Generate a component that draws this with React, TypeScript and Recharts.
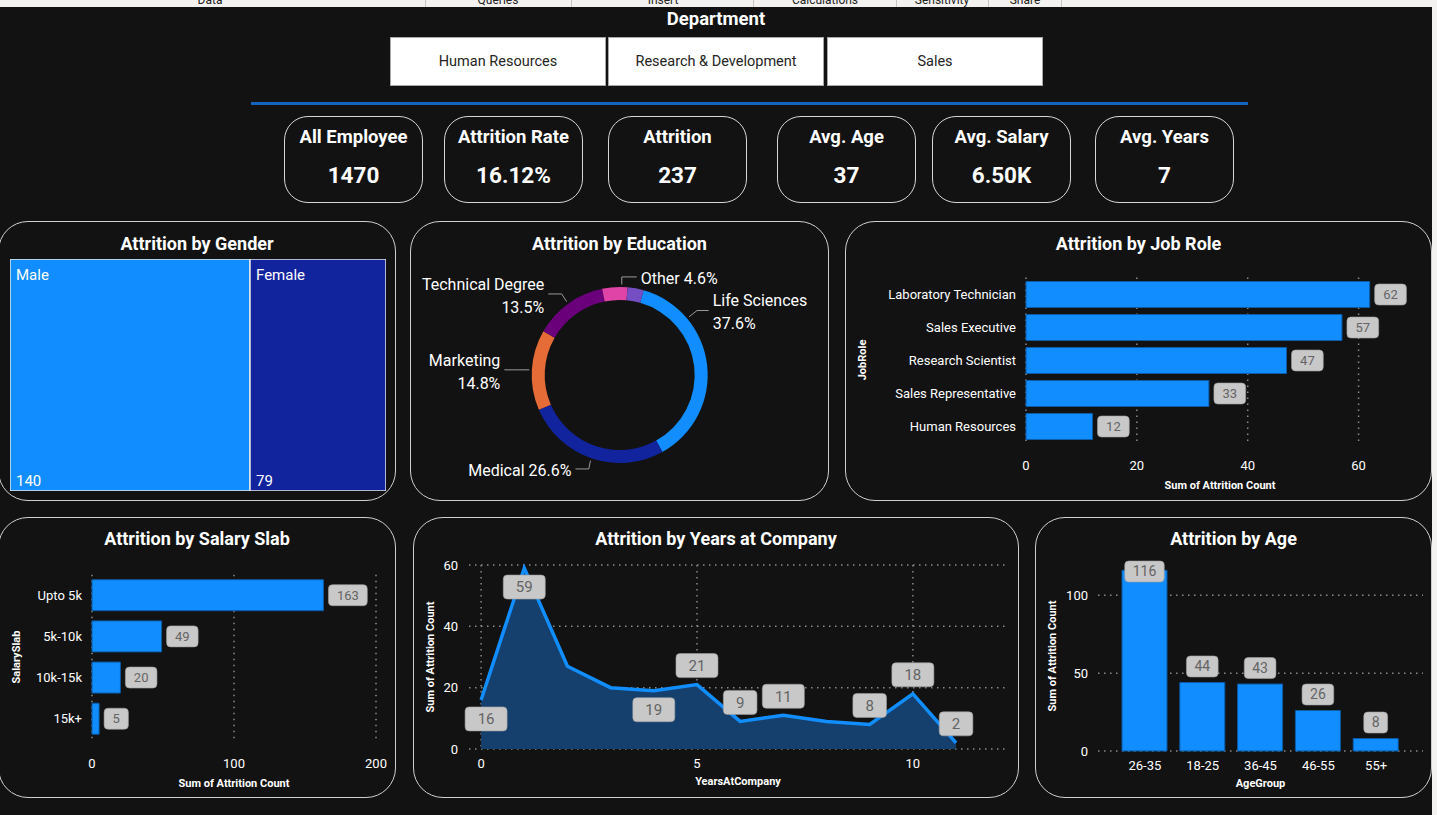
import React from 'react';
import {
  Treemap, PieChart, Pie, Cell, BarChart, Bar, XAxis, YAxis, CartesianGrid, LabelList, AreaChart, Area,
} from 'recharts';

// ---------------- data ----------------
const toolbarTabs = ['Data', 'Queries', 'Insert', 'Calculations', 'Sensitivity', 'Share'];
const departments = ['Human Resources', 'Research & Development', 'Sales'];
const kpiTitles = ['All Employee', 'Attrition Rate', 'Attrition', 'Avg. Age', 'Avg. Salary', 'Avg. Years'];
const kpiValues = ['1470', '16.12%', '237', '37', '6.50K', '7'];

const genderNames = ['Male', 'Female'];
const genderCounts = [140, 79];

const educationFields = ['Life Sciences', 'Medical', 'Marketing', 'Technical Degree', 'Other', 'Human Resources'];
const educationCounts = [89, 63, 35, 32, 11, 7];

const jobRoles = ['Laboratory Technician', 'Sales Executive', 'Research Scientist', 'Sales Representative', 'Human Resources'];
const jobRoleCounts = [62, 57, 47, 33, 12];
const jobRoleTicks = [0, 20, 40, 60];

const salarySlabs = ['Upto 5k', '5k-10k', '10k-15k', '15k+'];
const salaryCounts = [163, 49, 20, 5];
const salaryTicks = [0, 100, 200];

const yearsAtCompany = [0, 1, 2, 3, 4, 5, 6, 7, 8, 9, 10, 11];
const yearsCounts = [16, 59, 27, 20, 19, 21, 9, 11, 9, 8, 18, 2];
const yearsXTicks = [0, 5, 10];
const yearsYTicks = [0, 20, 40, 60];

const ageGroups = ['26-35', '18-25', '36-45', '46-55', '55+'];
const ageCounts = [116, 44, 43, 26, 8];
const ageTicks = [0, 50, 100];

// ---------------- tables built from data ----------------
const genderData = genderNames.map((name, i) => ({ name, value: genderCounts[i] }));
const educationData = educationFields.map((name, i) => ({ name, value: educationCounts[i] }));
const jobRoleData = jobRoles.map((role, i) => ({ role, count: jobRoleCounts[i] }));
const salaryData = salarySlabs.map((slab, i) => ({ slab, count: salaryCounts[i] }));
const yearsData = yearsAtCompany.map((year, i) => ({ year, count: yearsCounts[i] }));
const ageData = ageGroups.map((group, i) => ({ group, count: ageCounts[i] }));

// ---------------- style ----------------
const FONT = "Roboto, 'Noto Sans', Arial, sans-serif";
const BG = '#121212';
const BLUE = '#118dff';
const BAR_STROKE = '#0b5ba8';
const GRID = { stroke: '#8a8a8a', strokeDasharray: '1.5 4.5', strokeWidth: 1.5, syncWithTicks: true };
const TICK = { fill: '#ffffff', fontSize: 13, fontFamily: FONT };
const GENDER_COLORS: Record<string, string> = { Male: '#118dff', Female: '#12239e' };
const EDU_COLORS = ['#118dff', '#12239e', '#e66c37', '#6b007b', '#e044a7', '#744ec2'];

const TAB_CENTERS = [210, 498, 663, 825, 942, 1025];
const TAB_DIVIDERS = [425, 571, 753, 896, 988, 1061];
const SLICER_LEFTS = [390, 608, 827];
const KPI_LEFTS = [284, 444, 608, 777, 932, 1095];

// label geometry for the donut (clockwise degrees from 12 o'clock, offsets in px)
const EDU_LABEL_LAYOUT: Record<string, { angle?: number; elbow: [number, number]; end: [number, number]; twoLine: boolean }> = {
  'Life Sciences': { angle: 50, elbow: [8, -6.3], end: [19.7, -6.3], twoLine: true },
  Medical: { elbow: [-1.7, 8.3], end: [-15, 8.3], twoLine: false },
  Marketing: { elbow: [-12, 0], end: [-25, 0], twoLine: true },
  'Technical Degree': { elbow: [-5, -7.7], end: [-18.4, -7.7], twoLine: true },
  Other: { angle: 1.3, elbow: [0, -7.6], end: [15, -7.6], twoLine: false },
};

// placement of the value badges on the area chart (1 = below point, -1 = above)
const YEARS_LABEL_PLACEMENT: Record<number, { side: number; dx?: number }> = {
  0: { side: 1, dx: 5 }, 1: { side: 1 }, 4: { side: 1 }, 5: { side: -1 }, 6: { side: -1 },
  7: { side: -1 }, 9: { side: -1 }, 10: { side: -1 }, 11: { side: -1 },
};

// ---------------- helpers ----------------
const badgeWidth = (text: string, fontSize: number, padX: number) => text.length * fontSize * 0.56 + padX * 2;

function Badge({ cx, cy, text, fontSize, padX, h }: { cx: number; cy: number; text: string; fontSize: number; padX: number; h: number }) {
  const w = badgeWidth(text, fontSize, padX);
  return (
    <g>
      <rect x={cx - w / 2} y={cy - h / 2} width={w} height={h} rx={4} ry={4} fill="#c8c8c8" stroke="#a0a0a0" strokeWidth={0.6} />
      <text x={cx} y={cy} dy="0.35em" textAnchor="middle" fill="#646464" fontSize={fontSize} fontFamily={FONT}>{text}</text>
    </g>
  );
}

const hTitle = (text: string, dy: number) => (p: any) => {
  const vb = p.viewBox ?? { x: 0, y: 0, width: 0, height: 0 };
  const x = vb.x + vb.width / 2;
  const y = vb.y + dy;
  return (
    <text x={x} y={y} dy="0.35em" textAnchor="middle" fill="#ffffff" fontSize={11} fontWeight={700} fontFamily={FONT}>{text}</text>
  );
};

const vTitle = (text: string, x: number) => (p: any) => {
  const vb = p.viewBox ?? { x: 0, y: 0, width: 0, height: 0 };
  const cy = vb.y + vb.height / 2;
  return (
    <text x={x} y={cy} dy="0.35em" transform={`rotate(-90 ${x} ${cy})`} textAnchor="middle" fill="#ffffff" fontSize={11} fontWeight={700} fontFamily={FONT}>{text}</text>
  );
};

const GenderCell = (props: any) => {
  const { x, y, width, height, name, value, depth } = props;
  if (depth !== 1) return null;
  return (
    <g>
      <rect x={x} y={y} width={width} height={height} fill={GENDER_COLORS[name] ?? BLUE} stroke="#e8e8e8" strokeWidth={1.5} />
      <text x={x + 6} y={y + 21} fill="#ffffff" fontSize={15} fontFamily={FONT}>{name}</text>
      <text x={x + 6} y={y + height - 5} fill="#ffffff" fontSize={15} fontFamily={FONT}>{value}</text>
    </g>
  );
};

const renderEduLabel = (props: any) => {
  const name = props.name ?? props.payload?.name;
  const cfg = EDU_LABEL_LAYOUT[name];
  if (!cfg) return null;
  const { cx, cy, midAngle, outerRadius, percent } = props;
  const clock = cfg.angle ?? 90 - midAngle;
  const rad = (clock * Math.PI) / 180;
  const r = outerRadius + 2.5;
  const ax = cx + r * Math.sin(rad);
  const ay = cy - r * Math.cos(rad);
  const ex = ax + cfg.elbow[0];
  const ey = ay + cfg.elbow[1];
  const tx = ax + cfg.end[0];
  const ty = ay + cfg.end[1];
  const right = cfg.end[0] > 0;
  const textX = right ? tx + 4 : tx - 4;
  const anchor = right ? 'start' : 'end';
  const pct = `${(percent * 100).toFixed(1)}%`;
  const common = { fill: '#ffffff', fontSize: 16, fontFamily: FONT, textAnchor: anchor as any };
  return (
    <g>
      <polyline points={`${ax},${ay} ${ex},${ey} ${tx},${ty}`} fill="none" stroke="#9a9a9a" strokeWidth={1} />
      {cfg.twoLine ? (
        <>
          <text x={textX} y={ty - 9.7} dy="0.35em" {...common}>{name}</text>
          <text x={textX} y={ty + 13.3} dy="0.35em" {...common}>{pct}</text>
        </>
      ) : (
        <text x={textX} y={ty + 1} dy="0.35em" {...common}>{`${name} ${pct}`}</text>
      )}
    </g>
  );
};

const jobBadge = (p: any) => {
  const vb = p.viewBox ?? p;
  const text = String(p.value);
  const w = badgeWidth(text, 13, 8.6);
  return <Badge cx={vb.x + vb.width + 5 + w / 2} cy={vb.y + vb.height / 2} text={text} fontSize={13} padX={8.6} h={21} />;
};

const salaryBadge = (p: any) => {
  const vb = p.viewBox ?? p;
  const text = String(p.value);
  const w = badgeWidth(text, 13, 8.5);
  return <Badge cx={vb.x + vb.width + 5 + w / 2} cy={vb.y + vb.height / 2} text={text} fontSize={13} padX={8.5} h={21} />;
};

const AGE_MARGIN_TOP = 11;
const ageBadge = (p: any) => {
  const vb = p.viewBox ?? p;
  const text = String(p.value);
  const cy = Math.max(vb.y - 16, AGE_MARGIN_TOP + 10.5);
  return <Badge cx={vb.x + vb.width / 2} cy={cy} text={text} fontSize={14} padX={8} h={21} />;
};

const yearsBadge = (p: any) => {
  const idx = p.index;
  const cfg = YEARS_LABEL_PLACEMENT[idx];
  if (!cfg) return null;
  const vb = p.viewBox ?? p;
  const x = p.x ?? vb.x;
  const y = p.y ?? vb.y;
  return <Badge cx={x + (cfg.dx ?? 0)} cy={y + cfg.side * 19} text={String(p.value)} fontSize={15} padX={12.6} h={24} />;
};

const abs = (left: number, top: number, width: number, height: number): React.CSSProperties => ({
  position: 'absolute', left, top, width, height,
});

function Panel({ left, top, width, height, title, titleTop }: { left: number; top: number; width: number; height: number; title: string; titleTop: number }) {
  return (
    <div style={{ ...abs(left, top, width, height), border: '1px solid #cfcfcf', borderRadius: 30, boxSizing: 'border-box' }}>
      <div style={{ position: 'absolute', left: 0, right: 0, top: titleTop, textAlign: 'center', color: '#fff', fontSize: 18, fontWeight: 700, lineHeight: '22px', fontFamily: FONT }}>
        {title}
      </div>
    </div>
  );
}

export default function App() {
  return (
    <div style={{ position: 'absolute', left: 0, top: 0, width: 1437, height: 815, background: BG, overflow: 'hidden', fontFamily: FONT }}>
      {/* ribbon remnant at the top */}
      <div style={{ ...abs(0, 0, 1437, 7), background: '#f3f2f1', overflow: 'hidden' }}>
        {toolbarTabs.map((t, i) => (
          <div key={t} style={{ position: 'absolute', left: TAB_CENTERS[i] - 60, width: 120, top: -7, textAlign: 'center', fontSize: 12, lineHeight: '14px', color: '#252423' }}>{t}</div>
        ))}
        {TAB_DIVIDERS.map((x) => (
          <div key={x} style={{ ...abs(x, 0, 1, 7), background: '#c8c6c4' }} />
        ))}
      </div>
      <div style={{ ...abs(1432, 7, 5, 808), background: '#f3f2f1' }} />

      {/* slicer */}
      <div style={{ ...abs(0, 8, 1432, 22), textAlign: 'center', color: '#fff', fontSize: 18.5, fontWeight: 700, lineHeight: '22px' }}>Department</div>
      {departments.map((d, i) => (
        <div key={d} style={{ ...abs(SLICER_LEFTS[i], 37, 216, 49), background: '#ffffff', border: '1px solid #a8a8a8', boxSizing: 'border-box', display: 'flex', alignItems: 'center', justifyContent: 'center', color: '#252423', fontSize: 14.5 }}>{d}</div>
      ))}
      <div style={{ ...abs(251, 102, 997, 3), background: '#1565c0' }} />

      {/* KPI cards */}
      {kpiTitles.map((t, i) => (
        <div key={t} style={{ ...abs(KPI_LEFTS[i], 116, 139, 87), border: '1px solid #d6d6d6', borderRadius: 24, boxSizing: 'border-box', color: '#fff' }}>
          <div style={{ position: 'absolute', left: 0, right: 0, top: 9, textAlign: 'center', fontSize: 18.5, fontWeight: 700, lineHeight: '22px' }}>{t}</div>
          <div style={{ position: 'absolute', left: 0, right: 0, top: 44, textAlign: 'center', fontSize: 22.5, fontWeight: 700, lineHeight: '28px' }}>{kpiValues[i]}</div>
        </div>
      ))}

      {/* panels */}
      <Panel left={-2} top={221} width={398} height={280} title="Attrition by Gender" titleTop={11} />
      <Panel left={410} top={221} width={419} height={280} title="Attrition by Education" titleTop={11} />
      <Panel left={845} top={221} width={587} height={280} title="Attrition by Job Role" titleTop={11} />
      <Panel left={-2} top={517} width={398} height={281} title="Attrition by Salary Slab" titleTop={10} />
      <Panel left={413} top={517} width={606} height={281} title="Attrition by Years at Company" titleTop={10} />
      <Panel left={1035} top={517} width={397} height={281} title="Attrition by Age" titleTop={10} />

      {/* gender treemap */}
      <div style={abs(10, 259, 376, 232)}>
        <Treemap width={376} height={232} data={genderData} dataKey="value" nameKey="name" content={<GenderCell />} isAnimationActive={false} />
      </div>

      {/* education donut */}
      <div style={abs(410, 250, 418, 250)}>
        <PieChart width={418} height={250} margin={{ top: 0, right: 0, bottom: 0, left: 0 }}>
          <Pie
            data={educationData}
            dataKey="value"
            nameKey="name"
            cx={209.7}
            cy={125}
            innerRadius={75}
            outerRadius={88}
            startAngle={74.2}
            endAngle={-285.8}
            stroke="none"
            label={renderEduLabel}
            labelLine={false}
            isAnimationActive={false}
          >
            {educationData.map((d, i) => (
              <Cell key={d.name} fill={EDU_COLORS[i]} />
            ))}
          </Pie>
        </PieChart>
      </div>

      {/* job role bars */}
      <div style={abs(845, 250, 586, 250)}>
        <BarChart width={586} height={250} data={jobRoleData} layout="vertical" margin={{ top: 27.5, right: 17, bottom: 7.5, left: 0 }}>
          <CartesianGrid horizontal={false} {...GRID} />
          <XAxis type="number" domain={[0, 70]} ticks={jobRoleTicks} axisLine={false} tickLine={false} tickSize={0} tickMargin={18} tick={TICK} height={50} label={hTitle('Sum of Attrition Count', 42.5)} />
          <YAxis type="category" dataKey="role" width={181} axisLine={false} tickLine={false} tickSize={0} tickMargin={10} tick={TICK} label={vTitle('JobRole', 17)} />
          <Bar dataKey="count" fill={BLUE} stroke={BAR_STROKE} strokeWidth={1} barSize={26} isAnimationActive={false}>
            <LabelList dataKey="count" content={jobBadge} />
          </Bar>
        </BarChart>
      </div>

      {/* salary slab bars */}
      <div style={abs(0, 550, 396, 247)}>
        <BarChart width={396} height={247} data={salaryData} layout="vertical" margin={{ top: 24.7, right: 20, bottom: 7.6, left: 0 }}>
          <CartesianGrid horizontal={false} {...GRID} />
          <XAxis type="number" domain={[0, 200]} ticks={salaryTicks} axisLine={false} tickLine={false} tickSize={0} tickMargin={19} tick={TICK} height={50} label={hTitle('Sum of Attrition Count', 43.6)} />
          <YAxis type="category" dataKey="slab" width={92} axisLine={false} tickLine={false} tickSize={0} tickMargin={10} tick={TICK} label={vTitle('SalarySlab', 16)} />
          <Bar dataKey="count" fill={BLUE} stroke={BAR_STROKE} strokeWidth={1} barSize={31} isAnimationActive={false}>
            <LabelList dataKey="count" content={salaryBadge} />
          </Bar>
        </BarChart>
      </div>

      {/* years at company area */}
      <div style={abs(413, 550, 605, 247)}>
        <AreaChart width={605} height={247} data={yearsData} margin={{ top: 15, right: 11, bottom: 8, left: 0 }}>
          <CartesianGrid {...GRID} />
          <XAxis type="number" dataKey="year" domain={[-0.28, 12.18]} ticks={yearsXTicks} axisLine={false} tickLine={false} tickSize={0} tickMargin={9.4} tick={TICK} height={40} label={hTitle('YearsAtCompany', 32)} />
          <YAxis type="number" domain={[0, 60]} ticks={yearsYTicks} width={56} axisLine={false} tickLine={false} tickSize={0} tickMargin={11} tick={TICK} label={vTitle('Sum of Attrition Count', 17)} />
          <Area type="linear" dataKey="count" stroke={BLUE} strokeWidth={3.5} fill="#15406e" fillOpacity={1} dot={false} activeDot={false} isAnimationActive={false}>
            <LabelList dataKey="count" content={yearsBadge} />
          </Area>
        </AreaChart>
      </div>

      {/* age bars */}
      <div style={abs(1035, 550, 396, 247)}>
        <BarChart width={396} height={247} data={ageData} margin={{ top: AGE_MARGIN_TOP, right: 8, bottom: 6, left: 0 }}>
          <CartesianGrid vertical={false} {...GRID} />
          <XAxis dataKey="group" padding={{ left: 18, right: 18 }} axisLine={false} tickLine={false} tickSize={0} tickMargin={9.4} tick={TICK} height={40} label={hTitle('AgeGroup', 32)} />
          <YAxis type="number" domain={[0, 122]} ticks={ageTicks} width={63} axisLine={false} tickLine={false} tickSize={0} tickMargin={10} tick={TICK} label={vTitle('Sum of Attrition Count', 17)} />
          <Bar dataKey="count" fill={BLUE} stroke={BAR_STROKE} strokeWidth={1} barSize={45} isAnimationActive={false}>
            <LabelList dataKey="count" content={ageBadge} />
          </Bar>
        </BarChart>
      </div>
    </div>
  );
}
